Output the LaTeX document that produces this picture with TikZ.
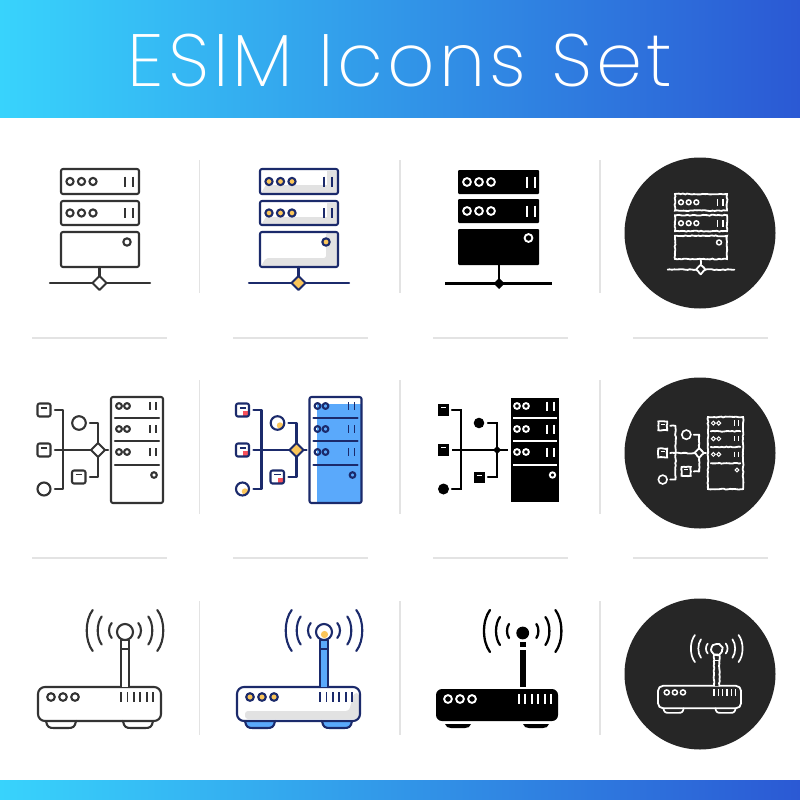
\documentclass[tikz,border=0pt]{standalone}
\usepackage{fontspec}
\newfontfamily\titlefont[LetterSpace=5.4]{Poppins ExtraLight}
\usetikzlibrary{decorations.pathmorphing}
\definecolor{navy}{HTML}{1B2A6B}
\definecolor{darkline}{HTML}{333333}
\definecolor{disc}{HTML}{262626}
\definecolor{yel}{HTML}{FBC65A}
\definecolor{sky}{HTML}{5AA9FB}
\definecolor{pinkc}{HTML}{F8505A}
\definecolor{greyfill}{HTML}{E2E2E2}
\definecolor{sep}{HTML}{E3E3E3}
\definecolor{gradA}{HTML}{38D3FC}
\definecolor{gradB}{HTML}{2F9CEA}
\definecolor{gradC}{HTML}{2B59D4}
\colorlet{ink}{darkline}\colorlet{paper}{white}\colorlet{dot}{white}\colorlet{dia}{white}\colorlet{ant}{white}\colorlet{foot}{white}
\tikzset{
  ol/.style={draw=ink,line width=2.1pt,line join=round,line cap=round},
  boxl/.style={ol,rounded corners=2pt},
  bodyl/.style={ol,rounded corners=7pt},
  curvel/.style={ol},
  thin ol/.style={draw=ink,line width=1.8pt,line cap=butt},
  dash ol/.style={draw=ink,line width=1.7pt,line cap=butt},
  dotc/.style={ol,fill=dot},
  chalk/.style={decorate,decoration={random steps,segment length=2.2pt,amplitude=.45pt}},
  chalkicon/.style={ol/.style={draw=white,line width=1.8pt,line cap=round,line join=round,chalk},
     boxl/.style={draw=white,line width=1.8pt,chalk},
     bodyl/.style={draw=white,line width=1.8pt,line join=round,rounded corners=5pt},
     curvel/.style={draw=white,line width=1.7pt,line cap=round},
     thin ol/.style={draw=white,line width=1.4pt},
     dash ol/.style={draw=white,line width=1.2pt},
     dotc/.style={draw=white,line width=1.5pt,fill=disc}},
  solid/.style={fill=black,draw=none},
  hole/.style={draw=white,line width=1.9pt,fill=none},
  wl/.style={draw=white,line width=1.9pt,line cap=butt},
  bk/.style={draw=black,line width=2.3pt,line cap=butt},
  sepl/.style={draw=sep,line width=1.6pt},
  waveb/.style={draw=black,line width=2.3pt,line cap=round}
}
% outline server icon, drawn at its reference position
\newcommand\iconServer{%
  \foreach \t/\b in {169/194,201/225}{%
    \draw[boxl] (61,\t) rectangle (139,\b);
    \foreach \cx in {70,81.5,93}{\draw[dotc] (\cx,{(\t+\b)/2}) circle[radius=3.6];}
    \foreach \cx in {125,133}{\draw[thin ol] (\cx,{(\t+\b)/2-5}) -- (\cx,{(\t+\b)/2+5});}
  }
  \draw[boxl] (61,232) rectangle (139,267);
  \draw[dotc] (127,242) circle[radius=3.7];
  \draw[ol] (99.5,267) -- (99.5,276);
  \draw[ol] (50,283) -- (92.5,283) (106.5,283) -- (150,283);
  \draw[ol,fill=dia] (99.5,276) -- (106.5,283) -- (99.5,290) -- (92.5,283) -- cycle;
}
% outline network icon
\newcommand\iconNet{%
  \foreach \y in {410,450}{\draw[boxl] (37.5,\y-6.5) rectangle (50.5,\y+6.5);
     \draw[dash ol] (41,\y-2) -- (47,\y-2);}
  \draw[bigdot] (44,489) circle[radius=6.5];
  \draw[ol] (55,410) -- (63,410) -- (63,489) -- (55,489);
  \draw[ol] (55,450) -- (91,450);
  \draw[bigdot] (79,423) circle[radius=6.8];
  \draw[boxl] (72,470.5) rectangle (85.5,483.5);
  \draw[dash ol] (75.5,474.5) -- (82,474.5);
  \draw[ol] (90,423) -- (98,423) -- (98,443);
  \draw[ol] (90,477) -- (98,477) -- (98,457);
  \draw[ol,fill=dia] (98,443) -- (105,450) -- (98,457) -- (91,450) -- cycle;
  \draw[ol] (105,450) -- (108,450);
  \draw[boxl] (111,397) rectangle (163,503);
  \foreach \y in {418,441,465}{\draw[ol] (115,\y) -- (159,\y);}
  \foreach \y in {406,429,452}{
    \foreach \cx in {119,127}{\draw[dotc] (\cx,\y) circle[radius=2.9];}
    \foreach \cx in {150,156}{\draw[thin ol] (\cx,\y-4) -- (\cx,\y+4);}
  }
  \draw[dotc] (154,475) circle[radius=2.8];
}
% mirrored pairs of radio waves: centre x, centre y, then half width/half height/bulge thrice
\newcommand\wavesAt[5]{%
  \foreach \dx/\hh/\bu in {#3,#4,#5}{
    \draw[wavestyle] (#1-\dx,#2-\hh) .. controls (#1-\dx-1.33*\bu,#2-.5*\hh) and (#1-\dx-1.33*\bu,#2+.5*\hh) .. (#1-\dx,#2+\hh);
    \draw[wavestyle] (#1+\dx,#2-\hh) .. controls (#1+\dx+1.33*\bu,#2-.5*\hh) and (#1+\dx+1.33*\bu,#2+.5*\hh) .. (#1+\dx,#2+\hh);
  }
}
\newcommand\iconRouter{%
  \draw[curvel,fill=foot] (46,721) .. controls (47,727) and (49,728) .. (54,728) -- (68,728) .. controls (73,728) and (75,727) .. (76,721);
  \draw[curvel,fill=foot] (123,721) .. controls (124,727) and (126,728) .. (131,728) -- (145,728) .. controls (150,728) and (152,727) .. (153,721);
  \draw[bodyl] (38,687) rectangle (161,721);
  \foreach \cx in {51,63,75}{\draw[dotc] (\cx,697) circle[radius=3.8];}
  \foreach \cx in {121,127.4,133.8,140.2,146.6,153}{\draw[thin ol] (\cx,692) -- (\cx,702);}
  \draw[ol,fill=ant] (121,687) -- (121,640) -- (129,640) -- (129,687);
  \draw[thin ol] (121,649) -- (129,649);
  \draw[ol] (125,632) circle[radius=8];
  \tikzset{wavestyle/.style={curvel}}
  \wavesAt{125}{630.5}{32.3/20.5/6}{23.3/14/4}{13.3/7.5/2.7}
}
\begin{document}
\begin{tikzpicture}[x=1pt,y=-1pt,bigdot/.style={dotc}]
\useasboundingbox (0,0) rectangle (800,800);
\fill[white] (0,0) rectangle (800,800);
% bands
\shade[left color=gradA,middle color=gradB,right color=gradC,draw=none] (0,0) rectangle (800,117);
\shade[left color=gradA,middle color=gradB,right color=gradC,draw=none] (0,780) rectangle (800,800);
\node[text=white,font=\titlefont\fontsize{74}{74}\selectfont,inner sep=0pt,anchor=base] (title) at (400,86) {ESIM Icons Set};
% separators
\foreach \x in {199.5,400,600}{
  \draw[sepl] (\x,160) -- (\x,293);
  \draw[sepl] (\x,380) -- (\x,514);
  \draw[sepl] (\x,601) -- (\x,735);
}
\foreach \y in {338,558}{
  \foreach \x in {32,233,433,633}{\draw[sepl,line width=1.2pt] (\x,\y) -- (\x+135,\y);}
}
% column 1
\iconServer
\iconNet
\iconRouter
% column 2
\begin{scope}[xshift=199pt]
  \colorlet{ink}{navy}\colorlet{dot}{yel}\colorlet{dia}{yel}\colorlet{ant}{sky}\colorlet{foot}{sky}
  \foreach \t in {169,201}{
    \fill[greyfill] (67,\t+16) -- (128,\t+16) -- (128,\t+2) -- (138,\t+2) -- (138,\t+24) -- (62,\t+24) -- cycle;
  }
  \fill[greyfill,rounded corners=2pt] (67,258) -- (127,258) -- (127,233) -- (138,233) -- (138,266) -- (62,266) -- cycle;
  \fill[greyfill,rounded corners=3pt] (46,711) -- (150,711) -- (155,693) -- (160,693) -- (160,719) -- (46,719) -- cycle;
  \iconServer
  \iconRouter
  \fill[yel] (125.5,634.5) circle[radius=3.6];
\end{scope}
\begin{scope}[xshift=198.5pt]
  \colorlet{ink}{navy}\colorlet{dot}{white}\colorlet{dia}{yel}
  \fill[sky] (118,404) rectangle (162,502);
  \foreach \x/\y in {44/410,44/450,79/477}{\fill[pinkc] (\x,\y+.5) rectangle (\x+6,\y+6);}
  \fill[yel] (46.5,491.5) circle[radius=3.2];
  \fill[yel] (81.5,425.5) circle[radius=3.2];
  \tikzset{dotc/.style={ol}}
  \iconNet
\end{scope}
% column 3: solid server
\foreach \t/\b in {170/194,199/223}{
  \fill[solid,rounded corners=1pt] (458,\t) rectangle (539,\b);
  \foreach \cx in {467,479,491}{\draw[hole] (\cx,{(\t+\b)/2}) circle[radius=3.9];}
  \foreach \cx in {527,535}{\draw[wl] (\cx,{(\t+\b)/2-5.5}) -- (\cx,{(\t+\b)/2+5.5});}
}
\fill[solid,rounded corners=1pt] (458,229) rectangle (539,265);
\draw[hole] (528.5,238) circle[radius=3.9];
\draw[bk] (499,265) -- (499,283.5);
\draw[bk] (445,283.5) -- (552,283.5);
\fill[black] (499,278) -- (504.5,283.5) -- (499,289) -- (493.5,283.5) -- cycle;
% column 3: solid network
\foreach \y in {410,450}{\fill[solid] (438,\y-6) rectangle (449,\y+6);
  \draw[wl,line width=1.5pt] (441,\y-2.5) -- (446,\y-2.5);}
\fill[solid] (443.5,489) circle[radius=5.5];
\draw[bk,line cap=round] (452,410) -- (461,410) -- (461,489) -- (452,489);
\draw[bk] (452,450) -- (508,450);
\fill[solid] (479,423) circle[radius=5.3];
\fill[solid] (473.5,472) rectangle (484.5,483);
\draw[wl,line width=1.5pt] (476.5,475.5) -- (481.5,475.5);
\draw[bk,line cap=round] (488,423) -- (497,423) -- (497,477) -- (488,477);
\fill[black] (497,446) -- (501,450) -- (497,454) -- (493,450) -- cycle;
\fill[solid] (511,398) rectangle (559,502);
\foreach \y in {418,441,465}{\draw[wl] (513,\y) -- (557,\y);}
\foreach \y in {406,429,452}{
  \foreach \cx in {517,526}{\draw[hole] (\cx,\y) circle[radius=2.9];}
  \foreach \cx in {547,554}{\draw[wl] (\cx,\y-4.5) -- (\cx,\y+4.5);}
}
\draw[hole] (552.5,475) circle[radius=2.7];
% column 3: solid router
\fill[solid,rounded corners=6pt] (436,689) rectangle (558,721);
\foreach \cx in {448,460,472}{\draw[hole] (\cx,699) circle[radius=3.9];}
\foreach \cx in {519,525.4,531.8,538.2,544.6,551}{\draw[wl] (\cx,694) -- (\cx,704);}
\fill[black] (445,724) -- (471,724) .. controls (470,727) and (468,728) .. (465,728) -- (451,728) .. controls (448,728) and (446,727) .. (445,724) -- cycle;
\fill[black] (523,724) -- (549,724) .. controls (548,727) and (546,728) .. (543,728) -- (529,728) .. controls (526,728) and (524,727) .. (523,724) -- cycle;
\fill[solid] (520,642) rectangle (525.5,647);
\fill[solid] (520,649.5) rectangle (525.5,687);
\fill[solid] (522.7,633) circle[radius=6.4];
\tikzset{wavestyle/.style={waveb}}
\wavesAt{522.7}{631}{32.7/21/6}{22.7/14/4}{13.7/7/2}
% column 4: discs with chalk icons
\foreach \n/\cy in {a/233,b/453,c/674}{\fill[disc] (700,\cy) circle[radius=75.5];}
\begin{scope}[chalkicon,shift={(675,194)},scale=.667,yscale=.995,shift={(-61,-169)}]
  \colorlet{dot}{disc}\colorlet{dia}{disc}
  \iconServer
\end{scope}
\begin{scope}[chalkicon,shift={(658,417)},xscale=.675,yscale=.68,shift={(-37,-397)},
    bigdot/.style={draw=white,line width=1.6pt,fill=disc},
    dotc/.style={draw=white,line width=1pt,fill=disc}]
  \colorlet{dot}{disc}\colorlet{dia}{disc}
  \iconNet
\end{scope}
\begin{scope}[chalkicon,shift={(658,635)},xscale=.675,yscale=.66,shift={(-38,-610)}]
  \colorlet{dot}{disc}\colorlet{foot}{disc}\colorlet{ant}{disc}
  \iconRouter
\end{scope}
\end{tikzpicture}
\end{document}
